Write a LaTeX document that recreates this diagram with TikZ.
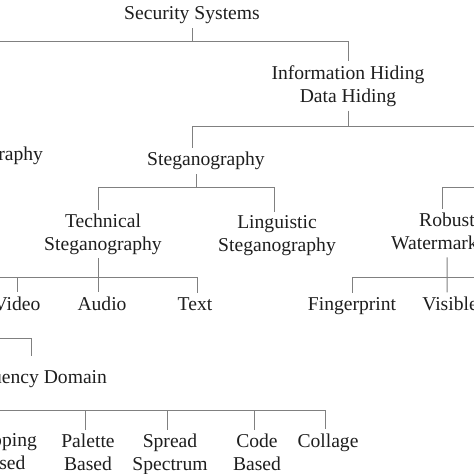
\documentclass[tikz,border=0pt]{standalone}
\usepackage{fontspec}
\setmainfont{Liberation Serif}
\usepackage{xcolor}
\usepackage{tikz}
\usetikzlibrary{positioning,calc}

\definecolor{linegray}{RGB}{128,128,128}
\definecolor{inkgray}{RGB}{30,30,30}

\begin{document}
\begin{tikzpicture}[x=1bp, y=-1bp]
    % Define styles
    \tikzset{term/.style={text=inkgray, inner xsep=0pt, inner ysep=4bp, outer sep=0pt, align=center,
        font=\fontsize{19.6bp}{23bp}\selectfont}}
    \tikzset{oneline/.style={term, anchor=base}}
    \tikzset{branch/.style={draw=linegray, line width=1bp}}

    % Frame of the picture (cropped view)
    \useasboundingbox (0,0) rectangle (474,474);
    \clip (0,0) rectangle (474,474);

    % Draw top levels
    \node[oneline] (ss) at (192,20) {Security Systems};
    \node[term] (infohiding) at (348,86) {Information Hiding\\Data Hiding};
    \node[oneline] (crypto) at (-11.5,161) {Cryptography};
    \node[oneline] (steg) at (206,166) {Steganography};

    % Draw steganography branches
    \node[term] (technical) at (103,234) {Technical\\Steganography};
    \node[term] (linguistic) at (277,236) {Linguistic\\Steganography};
    \node[term] (robust) at (447,233) {Robust\\Watermarking};

    % Draw media and watermark kinds
    \node[oneline] (video) at (17,310) {Video};
    \node[oneline] (audio) at (102,310) {Audio};
    \node[oneline] (txt) at (195,310) {Text};
    \node[oneline] (finger) at (352,310) {Fingerprint};
    \node[oneline] (visible) at (450,310) {Visible};

    % Draw image domain techniques
    \node[oneline] (freq) at (31.6,383) {Frequency Domain};
    \node[term] (mapping) at (1.5,452) {Mapping\\Based};
    \node[term] (palette) at (88,452) {Palette\\Based};
    \node[term] (spread) at (170,454) {Spread\\Spectrum};
    \node[term] (code) at (257,452) {Code\\Based};
    \node[oneline] (collage) at (328,447) {Collage};

    % Bars and loose ends outside the view
    \coordinate (ssbar) at (0,42);
    \coordinate (ihbar) at (0,127);
    \coordinate (stegbar) at (0,188);
    \coordinate (techbar) at (0,277);
    \coordinate (rwbar) at (0,277);
    \coordinate (wmstub) at (520,127);
    \coordinate (wmbar) at (520,188);
    \coordinate (imgstub) at (-40,277);
    \coordinate (invstub) at (520,277);
    \coordinate (imgbar) at (-40,338);
    \coordinate (subbar) at (-40,410);

    % Connect security systems
    \draw[branch] (ss.south) -- (ss.south |- ssbar) -| (infohiding.north);
    \draw[branch] (ss.south |- ssbar) -| (crypto.north);

    % Connect information hiding
    \draw[branch] (infohiding.south) -- (infohiding.south |- ihbar) -| ([xshift=-14bp]steg.north);
    \draw[branch] (infohiding.south |- ihbar) -- (wmstub);

    % Connect steganography
    \draw[branch] ([xshift=-10bp]steg.south) -- ([xshift=-10bp]steg.south |- stegbar) -| ([xshift=-5bp]technical.north);
    \draw[branch] ([xshift=-10bp]steg.south |- stegbar) -| ([xshift=-3bp]linguistic.north);
    \draw[branch] (wmbar) -| ([xshift=-5bp]robust.north);

    % Connect technical steganography
    \draw[branch] ([xshift=-5bp]technical.south) -- ([xshift=-4bp]audio.north);
    \draw[branch] ([xshift=-5bp]technical.south |- techbar) -| (video.north);
    \draw[branch] ([xshift=-5bp]technical.south |- techbar) -| ([xshift=2bp]txt.north);
    \draw[branch] (video.north |- techbar) -- (imgstub);

    % Connect robust watermarking
    \draw[branch] (robust.south) -- ([xshift=-3bp]visible.north);
    \draw[branch] (robust.south |- rwbar) -| (finger.north);
    \draw[branch] (robust.south |- rwbar) -- (invstub);

    % Connect image domains
    \draw[branch, shorten >=10bp] (imgbar) -| (freq.north);
    \draw[branch] (subbar) -| ([xshift=-3bp]mapping.north);
    \draw[branch] (subbar) -| ([xshift=-3bp]palette.north);
    \draw[branch] (subbar) -| ([xshift=-3bp]spread.north);
    \draw[branch] (subbar) -| ([xshift=-3bp]code.north);
    \draw[branch] (subbar) -| ([xshift=-3bp]collage.north);

\end{tikzpicture}
\end{document}
